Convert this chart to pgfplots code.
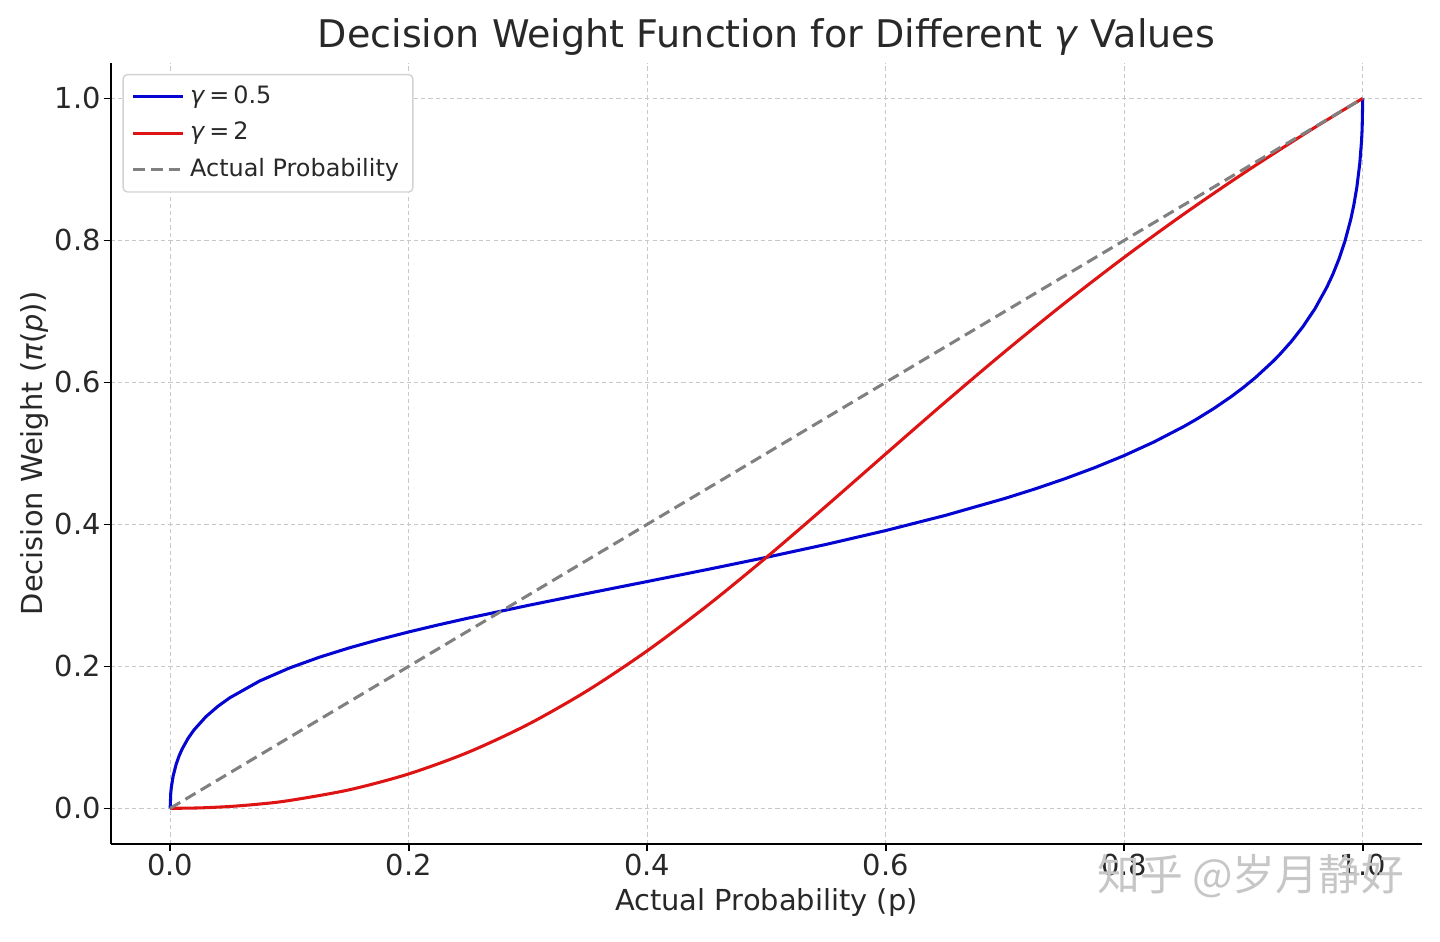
\documentclass[border=0pt]{standalone}
\usepackage{pgfplots}
\pgfplotsset{compat=1.18}
\usepackage{fontspec}
\setmainfont{DejaVu Sans}
\newfontfamily\cjk{Noto Sans CJK SC}

\definecolor{lineblue}{RGB}{5,5,210}
\definecolor{linered}{RGB}{222,20,20}
\definecolor{dashgray}{RGB}{128,128,128}
\definecolor{gridgray}{RGB}{200,200,200}
\definecolor{txt}{RGB}{40,40,40}

\begin{document}
\begin{tikzpicture}
\begin{axis}[
  scale only axis, width=472pt, height=281pt,
  xmin=-0.05, xmax=1.05, ymin=-0.05, ymax=1.05,
  axis lines*=left,
  axis line style={-, line width=0.7pt, black},
  xtick={0,0.2,...,1.0}, ytick={0,0.2,...,1.0},
  xticklabel style={/pgf/number format/.cd, fixed, fixed zerofill, precision=1},
  yticklabel style={/pgf/number format/.cd, fixed, fixed zerofill, precision=1},
  /pgf/number format/assume math mode=true,
  tick align=outside, major tick length=2.5pt,
  tick style={line width=0.6pt, black},
  tick label style={font=\fontsize{10.4}{12}\selectfont, text=txt, inner sep=0.8pt},
  grid=major,
  major grid style={gridgray, line width=0.4pt, dash pattern=on 1.5pt off 1.1pt},
  xlabel={Actual Probability (p)},
  ylabel={Decision Weight (\textit{π}(\textit{p}))},
  label style={font=\fontsize{10.4}{12}\selectfont, text=txt},
  xlabel style={yshift=-0.5pt},
  ylabel style={yshift=-2pt},
  title={Decision Weight Function for Different \textit{γ} Values},
  title style={font=\fontsize{13.7}{16}\selectfont, text=txt, yshift=-7pt},
  legend cell align=left,
  legend style={at={(0,1)}, anchor=north west, xshift=4.3pt, yshift=-4pt,
    draw=gray!35, rounded corners=1.5pt, line width=0.5pt,
    font=\fontsize{8.6}{10}\selectfont, text=txt,
    inner xsep=3pt, inner ysep=2pt, row sep=1.2pt},
  legend image code/.code={\draw[#1] (0pt,0pt) -- (18pt,0pt);},
  clip=false,
]
% gamma = 0.5
\addplot[lineblue, line width=1.1pt] coordinates {
(0,0) (0.0005,0.0214) (0.001,0.02974) (0.0025,0.04546) (0.005,0.06197)
(0.0075,0.07386) (0.01,0.0834) (0.015,0.09852) (0.02,0.11049) (0.03,0.12915)
(0.04,0.14369) (0.05,0.15573) (0.075,0.17937) (0.1,0.19764) (0.125,0.2128)
(0.15,0.22594) (0.175,0.2377) (0.2,0.24845) (0.225,0.25847) (0.25,0.26795)
(0.3,0.28579) (0.35,0.30278) (0.4,0.31946) (0.45,0.33625) (0.5,0.35355)
(0.55,0.37174) (0.6,0.39125) (0.65,0.41262) (0.7,0.43655) (0.725,0.44979)
(0.75,0.4641) (0.775,0.47971) (0.8,0.4969) (0.825,0.5161) (0.85,0.53785)
(0.86,0.54745) (0.875,0.56302) (0.89,0.58027) (0.9,0.59293) (0.91,0.60669)
(0.925,0.62993) (0.93,0.63853) (0.94,0.65732) (0.95,0.6788) (0.96,0.70392)
(0.97,0.73435) (0.975,0.75246) (0.98,0.7734) (0.985,0.79838) (0.99,0.82985)
(0.9925,0.84963) (0.995,0.87418) (0.9975,0.90806) (0.999,0.94008)
(0.9995,0.95697) (1,1)
};
\addlegendentry{\textit{γ}\,=\,0.5}
% gamma = 2
\addplot[linered, line width=1.1pt, smooth] coordinates {
(0,0) (0.025,0.000641) (0.05,0.002628) (0.075,0.006061) (0.1,0.011043)
(0.15,0.026068) (0.2,0.048507) (0.25,0.079057) (0.3,0.118175) (0.35,0.165935)
(0.4,0.22188) (0.45,0.28496) (0.5,0.35355) (0.55,0.42568) (0.6,0.49923)
(0.65,0.57231) (0.7,0.6434) (0.75,0.71151) (0.8,0.77612) (0.85,0.83707)
(0.9,0.89449) (0.95,0.94869) (0.975,0.97468) (1,1)
};
\addlegendentry{\textit{γ}\,=\,2}
\addplot[dashgray, line width=1.1pt, dash pattern=on 4.2pt off 2.2pt] coordinates {
(0,0) (1,1)
};
\addlegendentry{Actual Probability}
\node[font=\cjk\fontsize{15.4}{16}\selectfont, text=gray!45] at (axis cs:0.906,-0.096) {知乎 @岁月静好};
\end{axis}
\path ([shift={(-4pt,-5.5pt)}]current bounding box.south west)
  rectangle ([shift={(6pt,3.5pt)}]current bounding box.north east);
\end{tikzpicture}
\end{document}
